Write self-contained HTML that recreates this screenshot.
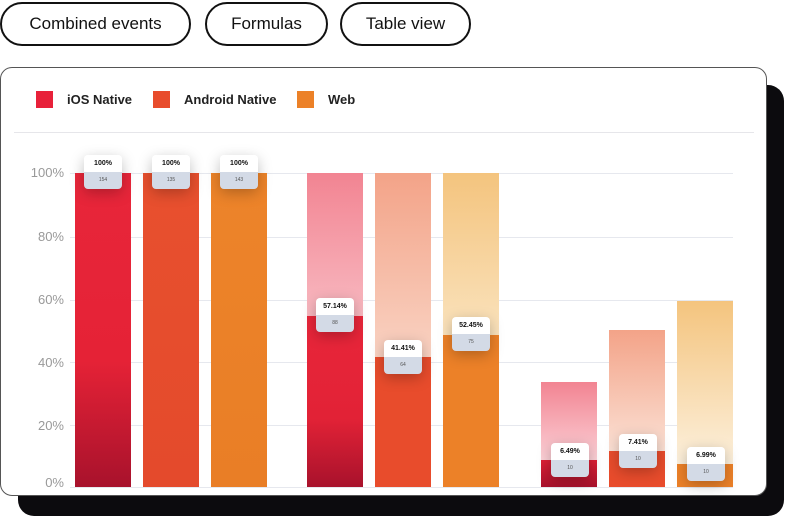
<!DOCTYPE html>
<html><head><style>
body{margin:0;width:786px;height:516px;background:#fff;font-family:"Liberation Sans",sans-serif;position:relative;overflow:hidden}
.pill{position:absolute;top:2px;height:40px;border:2px solid #111;border-radius:22px;font-size:17px;line-height:40px;text-align:center;color:#111}
.shadow{position:absolute;left:18px;top:85px;width:766px;height:431px;background:#0c0b0e;border-radius:16px}
.card{position:absolute;left:0;top:67px;width:765px;height:427px;background:#fff;border:1.5px solid #555;border-radius:12px;overflow:hidden}
.leg{position:absolute;top:91px;font-size:13px;font-weight:bold;color:#222;line-height:17px}
.leg i{display:inline-block;width:17px;height:17px;vertical-align:top;margin-right:14px}
.grid{position:absolute;left:70px;width:663px;height:1px;background:#e6e8ee}
.yl{position:absolute;left:0;width:64px;text-align:right;font-size:13px;color:#999}
.bar{position:absolute;width:56px}
.lb{position:absolute;width:38px;height:34px;border-radius:4px;box-shadow:0 4px 14px rgba(0,0,0,.25);overflow:hidden;font-size:7px;text-align:center}
.lb b{display:block;height:17px;line-height:17px;background:#fff;color:#111;font-size:7px}
.lb span{display:block;height:17px;line-height:17px;background:#d3dae6;color:#555;font-size:5px}
</style></head><body>
<div class="pill" style="left:0;width:187px">Combined events</div>
<div class="pill" style="left:205px;width:119px">Formulas</div>
<div class="pill" style="left:340px;width:127px">Table view</div>
<div class="shadow"></div>
<div class="card"></div>
<div class="leg" style="left:36px"><i style="background:#e8213a"></i>iOS Native</div>
<div class="leg" style="left:153px"><i style="background:#e84c2c"></i>Android Native</div>
<div class="leg" style="left:297px"><i style="background:#ec8128"></i>Web</div>
<div style="position:absolute;left:14px;top:132px;width:740px;height:1px;background:#e6e6ea"></div>
<div class="grid" style="top:173px"></div><div class="grid" style="top:237px"></div><div class="grid" style="top:300px"></div><div class="grid" style="top:362px"></div><div class="grid" style="top:425px"></div><div class="grid" style="top:487px"></div>
<div class="yl" style="top:165px">100%</div><div class="yl" style="top:229px">80%</div><div class="yl" style="top:292px">60%</div><div class="yl" style="top:355px">40%</div><div class="yl" style="top:418px">20%</div><div class="yl" style="top:475px">0%</div>

<div class="bar" style="left:75px;top:173px;height:314px;background:linear-gradient(#e8263a,#e52236 60%,#a8122c)"></div>
<div class="bar" style="left:143px;top:173px;height:314px;background:linear-gradient(#e8502e,#e44a2c)"></div>
<div class="bar" style="left:211px;top:173px;height:314px;background:linear-gradient(#ed842a,#e97e26)"></div>

<div class="bar" style="left:307px;top:173px;height:143px;background:linear-gradient(#f28492,#f8b8c0)"></div>
<div class="bar" style="left:307px;top:316px;height:171px;background:linear-gradient(#e8263a,#e22236 60%,#a8122c)"></div>
<div class="bar" style="left:375px;top:173px;height:184px;background:linear-gradient(#f3a388,#f9d2c2)"></div>
<div class="bar" style="left:375px;top:357px;height:130px;background:#e84c2c"></div>
<div class="bar" style="left:443px;top:173px;height:162px;background:linear-gradient(#f4c47e,#fae2bc)"></div>
<div class="bar" style="left:443px;top:335px;height:152px;background:#ec8128"></div>

<div class="bar" style="left:541px;top:382px;height:78px;background:linear-gradient(#f28492,#fbd0d6)"></div>
<div class="bar" style="left:541px;top:460px;height:27px;background:linear-gradient(#dd2036,#a8122c)"></div>
<div class="bar" style="left:609px;top:330px;height:121px;background:linear-gradient(#f3a388,#fbe0d4)"></div>
<div class="bar" style="left:609px;top:451px;height:36px;background:#e84c2c"></div>
<div class="bar" style="left:677px;top:301px;height:163px;background:linear-gradient(#f4c47e,#fcf0dc)"></div>
<div class="bar" style="left:677px;top:464px;height:23px;background:#ec8128"></div>

<div class="lb" style="left:84px;top:155px"><b>100%</b><span>154</span></div>
<div class="lb" style="left:152px;top:155px"><b>100%</b><span>135</span></div>
<div class="lb" style="left:220px;top:155px"><b>100%</b><span>143</span></div>
<div class="lb" style="left:316px;top:298px"><b>57.14%</b><span>88</span></div>
<div class="lb" style="left:384px;top:340px"><b>41.41%</b><span>64</span></div>
<div class="lb" style="left:452px;top:317px"><b>52.45%</b><span>75</span></div>
<div class="lb" style="left:551px;top:443px"><b>6.49%</b><span>10</span></div>
<div class="lb" style="left:619px;top:434px"><b>7.41%</b><span>10</span></div>
<div class="lb" style="left:687px;top:447px"><b>6.99%</b><span>10</span></div>
</body></html>
